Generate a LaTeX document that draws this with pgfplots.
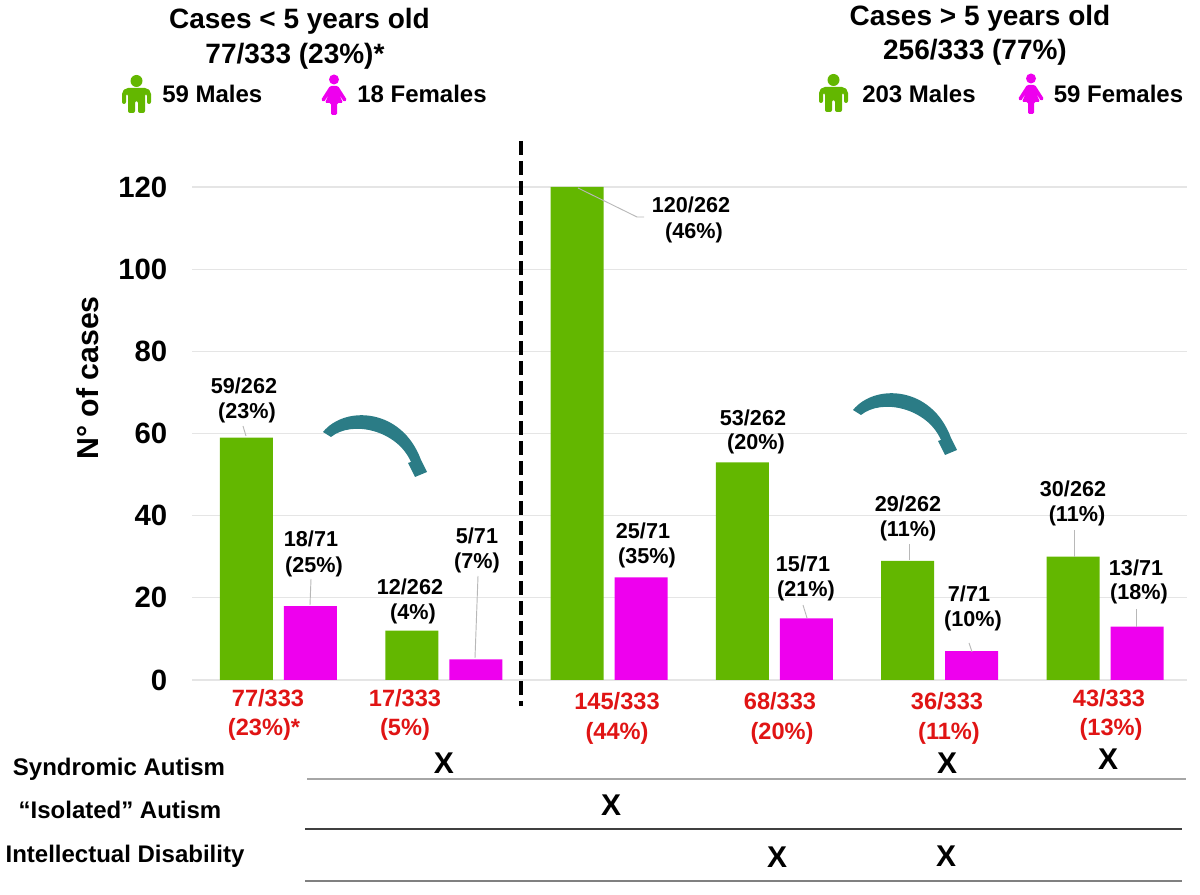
\documentclass[border=0pt]{standalone}
\usepackage{fontspec}
\setmainfont{Liberation Sans}
\usepackage{pgfplots}
\pgfplotsset{compat=1.18}

\definecolor{barg}{HTML}{63B700}
\definecolor{barm}{HTML}{EE00EE}
\definecolor{teal2}{HTML}{2B7C86}
\definecolor{redlab}{HTML}{E01414}

% font sizes
\newcommand{\fs}[1]{\fontsize{#1}{#1}\bfseries\selectfont}
% text placed in pixel coordinates of the reference
\newcommand{\dl}[3]{\node[font=\fs{16.2},inner sep=0pt,yshift=-1pt] at (#1,#2) {#3};}
\newcommand{\rl}[3]{\node[font=\fs{17.7},text=redlab,inner sep=0pt,yshift=-1pt] at (#1,#2) {#3};}
\newcommand{\xm}[2]{\node[font=\fs{22.5},inner sep=0pt] at (#1,#2) {X};}
\newcommand{\lead}[4]{\draw[color=black!28,line width=0.7pt] (#1,#2) -- (#3,#4);}

\newcommand{\maleicon}[2]{%
  \begin{scope}[shift={(#1,#2)}]
    \fill[barg] (14.5,6) circle (6);
    \fill[barg,rounded corners=1.5] (4,13) -- (25,13) -- (29,17) -- (29,29) -- (25,29) -- (25,19)
      -- (23,19) -- (23,38) -- (16,38) -- (16,26) -- (13,26) -- (13,38) -- (6,38) -- (6,19)
      -- (4,19) -- (4,29) -- (0,29) -- (0,17) -- cycle;
  \end{scope}}
\newcommand{\femaleicon}[2]{%
  \begin{scope}[shift={(#1,#2)}]
    \fill[barm] (13,5.5) circle (5);
    \fill[barm,rounded corners=1] (9,12) -- (17,12) -- (26,26) -- (23,28) -- (18,20) -- (22,29)
      -- (16,29) -- (16,41) -- (10,41) -- (10,29) -- (4,29) -- (8,20) -- (3,28) -- (0,26) -- cycle;
  \end{scope}}
\newcommand{\curvearrow}[2]{%
  \fill[teal2,shift={(#1,#2)}] (323,432) .. controls (345,405) and (402,408) .. (421,460)
    -- (427,472) -- (415,477) -- (408,463) -- (411,462) .. controls (397,430) and (352,420) .. (331,437) -- cycle;}

\begin{document}
\begin{tikzpicture}
\path[use as bounding box] (0,0) rectangle (900pt,671.25pt);

\begin{axis}[
  at={(144pt,161.25pt)}, anchor=south west,
  scale only axis, width=746.25pt, height=369.75pt,
  ybar=8.25pt, bar width=39.75pt,
  xmin=-0.523, xmax=5.496, ymin=0, ymax=120,
  xtick=\empty,
  ytick={0,20,40,60,80,100,120},
  ymajorgrids=true,
  grid style={color=black!10,line width=0.9pt},
  axis line style={draw=none},
  major tick length=0pt,
  /pgf/number format/assume math mode=true,
  yticklabel style={font=\fs{22},xshift=-15pt},
  ylabel={N° of cases},
  every axis y label/.style={at={(rel axis cs:0,0.6126)},xshift=-78pt,rotate=90,anchor=center,font=\fs{22.7}},
  clip=false,
]
\addplot[fill=barg,draw=none] coordinates {(0,59)(1,12)(2,120)(3,53)(4,29)(5,30)};
\addplot[fill=barm,draw=none] coordinates {(0,18)(1,5)(2,25)(3,15)(4,7)(5,13)};
\end{axis}

\begin{scope}[x=0.75pt,y=-0.75pt,yshift=671.25pt]
% header
\node[font=\fs{21},inner sep=0pt] at (299.5,21.5) {Cases < 5 years old};
\node[font=\fs{21},inner sep=0pt] at (295,56) {77/333 (23\%)*};
\node[font=\fs{21},inner sep=0pt] at (980,18) {Cases > 5 years old};
\node[font=\fs{21},inner sep=0pt] at (975,52) {256/333 (77\%)};
\node[font=\fs{18},inner sep=0pt,anchor=west] at (162,94) {59 Males};
\node[font=\fs{18},inner sep=0pt,anchor=west] at (357,94) {18 Females};
\node[font=\fs{18},inner sep=0pt,anchor=west] at (862,94) {203 Males};
\node[font=\fs{18},inner sep=0pt,anchor=west] at (1053.5,94) {59 Females};
\maleicon{122}{75}
\femaleicon{321}{74}
\maleicon{819}{74}
\femaleicon{1018}{73}

% divider
\draw[black,line width=3pt,dash pattern=on 10.5pt off 4.5pt] (521,141) -- (521,706);

% curved arrows
\curvearrow{0}{0}
\curvearrow{530}{-22}

% leaders
\lead{243}{426}{246}{436}
\lead{311}{579}{310}{605}
\lead{478}{576}{475}{658}
\draw[color=black!28,line width=0.7pt] (578,188) -- (637,217) -- (644,217);
\lead{803}{605}{807}{618}
\lead{909}{544}{909}{560}
\lead{969}{643}{972}{652}
\lead{1074}{530}{1074}{557}
\lead{1136}{609}{1136}{627}

% data labels
\dl{244}{385}{59/262}\dl{247}{412}{(23\%)}
\dl{311}{538}{18/71}\dl{314}{566}{(25\%)}
\dl{410}{586}{12/262}\dl{413}{613}{(4\%)}
\dl{477}{535}{5/71}\dl{477}{562}{(7\%)}
\dl{691}{204}{120/262}\dl{694}{232}{(46\%)}
\dl{643}{530}{25/71}\dl{647}{557}{(35\%)}
\dl{753}{417}{53/262}\dl{756}{443}{(20\%)}
\dl{803}{563}{15/71}\dl{806}{590}{(21\%)}
\dl{908}{503}{29/262}\dl{908}{530}{(11\%)}
\dl{969}{593}{7/71}\dl{973}{620}{(10\%)}
\dl{1073}{488}{30/262}\dl{1077}{515}{(11\%)}
\dl{1136}{567}{13/71}\dl{1139}{593}{(18\%)}

% totals under the bars
\rl{268}{697}{77/333}\rl{264}{728}{(23\%)*}
\rl{405}{697}{17/333}\rl{405}{728}{(5\%)}
\rl{617}{700}{145/333}\rl{617}{732}{(44\%)}
\rl{780}{700}{68/333}\rl{782}{732}{(20\%)}
\rl{947}{700}{36/333}\rl{949}{732}{(11\%)}
\rl{1109}{697}{43/333}\rl{1111}{728}{(13\%)}

% table below
\node[font=\fs{18},inner sep=0pt] at (119,769) {Syndromic Autism};
\node[font=\fs{18},inner sep=0pt] at (120,810) {“Isolated” Autism};
\node[font=\fs{18},inner sep=0pt] at (125,856) {Intellectual Disability};
\draw[color=black!35,line width=1.2pt] (307,779) -- (1186,779);
\draw[color=black!75,line width=1.2pt] (305,829) -- (1182,829);
\draw[color=black!50,line width=1.2pt] (305,881) -- (1182,881);
\xm{444}{763}\xm{947}{763}\xm{1108}{759}
\xm{611}{805}
\xm{777}{857}\xm{946}{856}
\end{scope}
\end{tikzpicture}
\end{document}
